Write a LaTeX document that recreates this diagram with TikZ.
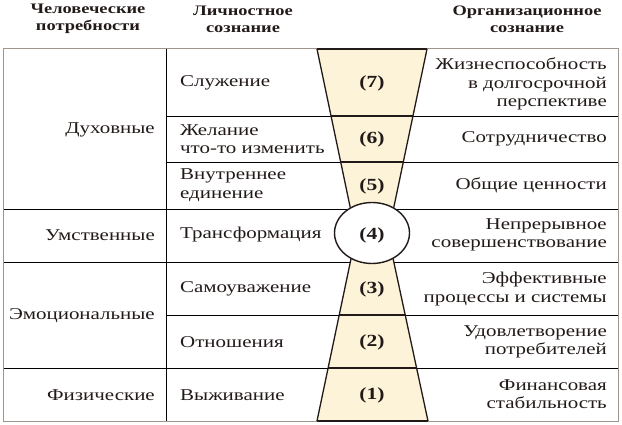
\documentclass[tikz,border=0pt]{standalone}
\usepackage{fontspec}
\setmainfont{Liberation Serif}[FakeStretch=1.27]
\usetikzlibrary{calc,shapes.geometric}
\definecolor{ink}{HTML}{221A18}
\definecolor{fun}{HTML}{FDF3D8}
\definecolor{frame}{HTML}{A0958C}
\tikzset{
  body/.style={font=\fontsize{16.5}{18.5}\selectfont, text=ink, inner sep=0pt, align=#1},
  body/.default=left,
  head/.style={font=\fontsize{14.5}{17}\selectfont\bfseries, text=ink, inner sep=0pt, align=center},
  num/.style={font=\fontsize{17}{18}\selectfont\bfseries, text=ink, inner sep=0pt},
  rule/.style={draw=black, line width=0.8pt},
  funline/.style={draw=ink, line width=1.6pt},
  funedge/.style={draw=ink, line width=1.3pt},
}
\begin{document}
\begin{tikzpicture}[x=1pt,y=-1pt]
\useasboundingbox (0,0) rectangle (622,425);
% horizontal rules
\draw[rule] (166,116) -- (618,116);
\draw[rule] (166,162) -- (618,162);
\draw[rule] (3,209) -- (618,209);
\draw[rule] (3,262) -- (618,262);
\draw[rule] (166,315) -- (618,315);
\draw[rule] (3,368) -- (618,368);
\draw[rule] (166,49) -- (166,421);
% outer frame
\draw[draw=frame, line width=1pt] (3,49) rectangle (618,421);
% funnel corners
\coordinate (TL) at (317,49);
\coordinate (TR) at (427,49);
\coordinate (WL) at (356,235);
\coordinate (WR) at (388,235);
\coordinate (BL) at (317,421);
\coordinate (BR) at (428,421);
\fill[fun] (TL) -- (TR) -- (WR) -- (WL) -- cycle;
\fill[fun] (WL) -- (WR) -- (BR) -- (BL) -- cycle;
\draw[funedge] (TL) -- (WL) (TR) -- (WR) (BL) -- (WL) (BR) -- (WR);
\draw[funline] (TL) -- (TR);
\draw[funline] (BL) -- (BR);
\foreach \y in {116,162} {
  \draw[funline] (intersection of TL--WL and 0,\y--10,\y) -- (intersection of TR--WR and 0,\y--10,\y);
}
\foreach \y in {315,368} {
  \draw[funline] (intersection of BL--WL and 0,\y--10,\y) -- (intersection of BR--WR and 0,\y--10,\y);
}
\node[draw=ink, line width=1.4pt, fill=white, ellipse, minimum width=75pt, minimum height=61pt, inner sep=0pt] (c4) at (372,233) {};
% numbers
\node[num] (n7) at (372,83) {(7)};
\node[num] (n6) at (372,139) {(6)};
\node[num] (n5) at (372,186) {(5)};
\node[num] (n4) at (372,235) {(4)};
\node[num] (n3) at (372,289) {(3)};
\node[num] (n2) at (372,342) {(2)};
\node[num] (n1) at (372,395) {(1)};
% headers
\node[head] (h1) at (88,19) {Человеческие\\потребности};
\node[head] (h2) at (243,19) {Личностное\\сознание};
\node[head] (h3) at (527,19) {Организационное\\сознание};
% left column
\node[body=right, anchor=east] (a1) at (155,130) {Духовные};
\node[body=right, anchor=east] (a2) at (155,235) {Умственные};
\node[body=right, anchor=east] (a3) at (155,316) {Эмоциональные};
\node[body=right, anchor=east] (a4) at (155,395) {Физические};
% middle column
\node[body, anchor=west] (b7) at (180,83) {Служение};
\node[body, anchor=west] (b6) at (180,139) {Желание\\что-то изменить};
\node[body, anchor=west] (b5) at (180,185) {Внутреннее\\единение};
\node[body, anchor=west] (b4) at (180,235) {Трансформация};
\node[body, anchor=west] (b3) at (180,289) {Самоуважение};
\node[body, anchor=west] (b2) at (180,342) {Отношения};
\node[body, anchor=west] (b1) at (180,395) {Выживание};
% right column
\node[body=right, anchor=east] (c7) at (607,84) {Жизнеспособность\\в долгосрочной\\перспективе};
\node[body=right, anchor=east] (c6) at (607,139) {Сотрудничество};
\node[body=right, anchor=east] (c5) at (607,185) {Общие ценности};
\node[body=right, anchor=east] (c4t) at (607,235) {Непрерывное\\совершенствование};
\node[body=right, anchor=east] (c3) at (607,289) {Эффективные\\процессы и системы};
\node[body=right, anchor=east] (c2) at (607,342) {Удовлетворение\\потребителей};
\node[body=right, anchor=east] (c1) at (607,394) {Финансовая\\стабильность};
\end{tikzpicture}
\end{document}
